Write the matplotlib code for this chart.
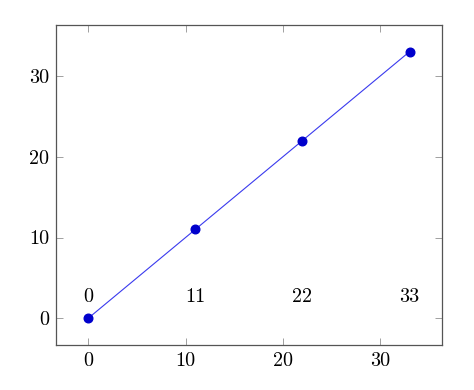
import matplotlib
matplotlib.use("Agg")
import matplotlib.pyplot as plt

x_vals = [0, 11, 22, 33]
y_vals = [0, 11, 22, 33]
point_labels = ["0", "11", "22", "33"]
label_y = 2.6
x_ticks = [0, 10, 20, 30]
y_ticks = [0, 10, 20, 30]

plt.rcParams['font.family'] = ['cmr10', 'DejaVu Serif']
plt.rcParams['mathtext.fontset'] = 'cm'
plt.rcParams['axes.formatter.use_mathtext'] = True

fig = plt.figure(figsize=(4.74, 3.90), dpi=100)
ax = fig.add_axes([56/474, 1 - 345/390, (441.7-56)/474, (345-25)/390])

ax.plot(x_vals, y_vals, color='#3a3aee', lw=0.8, marker='o', markersize=6.2,
        markerfacecolor='#0000CC', markeredgecolor='#0000CC', zorder=3)
for xv, lab in zip(x_vals, point_labels):
    ax.text(xv, label_y, lab, ha='center', va='center', fontsize=14.5)

ax.set_xlim(-3.3, 36.3)
ax.set_ylim(-3.3, 36.3)
ax.set_xticks(x_ticks)
ax.set_yticks(y_ticks)
ax.set_xticklabels([str(t) for t in x_ticks])
ax.set_yticklabels([str(t) for t in y_ticks])
ax.tick_params(direction='in', length=5, width=0.6, color='#909090',
               top=True, right=True, labelsize=14.5, pad=5)
for s in ax.spines.values():
    s.set_color('#555555')
    s.set_linewidth(0.9)

fig.savefig('out.png', dpi=100)
